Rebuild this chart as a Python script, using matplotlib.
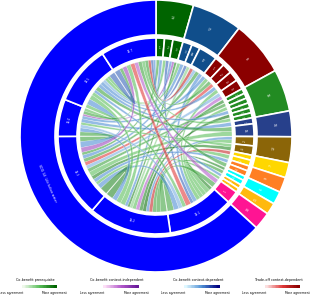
import numpy as np
import matplotlib.pyplot as plt
from matplotlib.patches import Wedge, PathPatch
from matplotlib.path import Path
from matplotlib.colors import LinearSegmentedColormap

# outer ring: goals, clockwise from the top
sdg_keys = ['13', '17', '8', '15', '16', '12', '7', '9', '6', '11', '10', '14']
sdg_labels = ['13', '17', '8', '15', '16', '12', '7', '9', '6', '11', '10', 'SDG 14: Life below water']
sdg_colors = ['#006400', '#104e8b', '#8b0000', '#228b22', '#27408b', '#8b6508',
              '#ffd700', '#ff7f24', '#00ffff', '#ffb90f', '#ff1493', '#0000ff']

# middle ring: targets (arc size in degrees)
target_ids = ['13.1', '13.2', '13.3', '17.3', '17.14', '17.17', '8.1', '8.2', '8.4', '8.9',
              '15.1', '15.2', '15.4', '15.5', '15.8', '15.9', '16.1', '16.16', '12.2', '12.4',
              '7.1', '7.2', '9.1', '9.4', '6.3', '6.6', '11.4', '11.5', '10.1',
              '14.1', '14.2', '14.3', '14.4', '14.5', '14.7']
target_sizes = [5, 5, 6, 5.5, 5, 11, 5.9, 5.9, 5.9, 5.9,
                3, 3, 3, 3, 3, 3, 3.5, 7.5, 5.5, 5.5,
                3, 3.5, 3, 3.5, 2.5, 3, 2.5, 2.5, 7.5,
                39, 49, 49, 22, 35, 33]

# interactions
link_from = ['13.1', '13.1', '13.2', '13.2', '13.3', '13.3', '13.3', '17.3', '17.3', '17.14',
             '17.14', '17.17', '17.17', '17.17', '17.17', '8.1', '8.1', '8.2', '8.2', '8.4',
             '8.4', '8.9', '8.9', '15.1', '15.2', '15.4', '15.5', '15.8', '15.9', '16.1',
             '16.16', '16.16', '12.2', '12.2', '12.4', '12.4', '7.1', '7.2', '9.1', '9.4',
             '6.3', '6.6', '11.4', '11.5', '10.1', '10.1',
             '14.1', '14.1', '14.1', '14.1', '14.2', '14.2', '14.2', '14.2', '14.3', '14.3',
             '14.3', '14.4', '14.4', '14.5', '14.1']
link_to = ['14.3', '14.2', '14.5', '14.1', '14.2', '14.4', '14.7', '14.3', '14.5', '14.7',
           '14.2', '14.1', '14.3', '14.5', '14.7', '14.2', '14.4', '14.3', '14.7', '14.5',
           '14.1', '14.2', '14.3', '14.2', '14.3', '14.1', '14.5', '14.2', '14.7', '14.4',
           '14.3', '14.5', '14.1', '14.2', '14.3', '14.4', '14.2', '14.1', '14.3', '14.7',
           '14.1', '14.2', '14.5', '14.3', '14.2', '14.7',
           '14.2', '14.3', '14.5', '14.7', '14.3', '14.4', '14.5', '14.7', '14.4', '14.5',
           '14.7', '14.5', '14.7', '14.7', '14.4']
link_value = [2.5, 2.5, 2.5, 2.5, 2, 2, 2, 3, 2.5, 2.5,
              2.5, 3, 3, 2.5, 2.5, 3, 3, 3, 3, 3,
              3, 3, 3, 3, 3, 3, 3, 3, 3, 3.5,
              4, 3.5, 3, 2.5, 3, 2.5, 3, 3.5, 3, 3.5,
              2.5, 3, 2.5, 2.5, 4, 3.5,
              5, 4, 3, 4, 6, 4, 4, 4, 4, 5,
              4, 3, 3, 5, 3]
link_kind = ['P', 'D', 'P', 'D', 'P', 'I', 'D', 'D', 'P', 'D',
             'P', 'D', 'P', 'D', 'T', 'P', 'D', 'T', 'P', 'D',
             'P', 'I', 'D', 'P', 'P', 'P', 'D', 'P', 'P', 'D',
             'P', 'P', 'P', 'D', 'P', 'P', 'T', 'P', 'D', 'P',
             'P', 'P', 'D', 'P', 'P', 'I',
             'P', 'D', 'P', 'T', 'P', 'D', 'P', 'P', 'P', 'D',
             'I', 'P', 'P', 'D', 'D']
link_level = [3, 2, 2, 3, 4, 3, 2, 2, 2, 3,
              1, 2, 3, 1, 3, 2, 2, 2, 3, 2,
              2, 2, 1, 4, 3, 2, 2, 5, 2, 2,
              2, 3, 2, 2, 4, 2, 3, 2, 2, 3,
              4, 3, 2, 2, 3, 2,
              3, 2, 2, 2, 4, 2, 2, 2, 3, 2,
              3, 2, 3, 3, 1]

legend_titles = ['Co-benefit prerequisite', 'Co-benefit context-independent',
                 'Co-benefit context-dependent', 'Trade-off context-dependent']
legend_kinds = ['P', 'I', 'D', 'T']
kind_colors = {'P': ['#eef8ea', '#5cbf5c', '#006400'],
               'I': ['#fde0f6', '#b45ccc', '#6a1b9a'],
               'D': ['#e0f8ff', '#4f8fd4', '#00007f'],
               'T': ['#fbe0e0', '#e03a3a', '#8b0000']}
cmaps = {k: LinearSegmentedColormap.from_list(k, v) for k, v in kind_colors.items()}

R_CHORD = 76
R_MID = (79, 98)
R_OUT = (101, 136)

fig = plt.figure(figsize=(3.12, 2.96), dpi=100)
ax = fig.add_axes([0, 0, 1, 1])

# layout: clockwise position from the top
scale = 360.0 / sum(target_sizes)
t_start, t_end = {}, {}
pos = 0.0
for tid, size in zip(target_ids, target_sizes):
    t_start[tid] = pos
    pos += size * scale
    t_end[tid] = pos


def ang(s):
    return 90.0 - s


def label_rot(theta):
    theta = theta % 360
    return theta - 90 if 0 < theta < 180 else theta + 90


# outer ring
for key, lab, col in zip(sdg_keys, sdg_labels, sdg_colors):
    ids = [t for t in target_ids if t.split('.')[0] == key]
    s0, s1 = t_start[ids[0]], t_end[ids[-1]]
    ax.add_patch(Wedge((0, 0), R_OUT[1], ang(s1), ang(s0), width=R_OUT[1] - R_OUT[0],
                       facecolor=col, edgecolor='white', lw=1.2))
    th = ang((s0 + s1) / 2)
    rr = (R_OUT[0] + R_OUT[1]) / 2
    ax.text(rr * np.cos(np.radians(th)), rr * np.sin(np.radians(th)), lab,
            rotation=label_rot(th), ha='center', va='center', color='white', fontsize=2.3)

# middle ring
for tid in target_ids:
    key = tid.split('.')[0]
    col = sdg_colors[sdg_keys.index(key)]
    s0, s1 = t_start[tid], t_end[tid]
    ax.add_patch(Wedge((0, 0), R_MID[1], ang(s1), ang(s0), width=R_MID[1] - R_MID[0],
                       facecolor=col, edgecolor='white', lw=1.2))
    th = ang((s0 + s1) / 2)
    rr = (R_MID[0] + R_MID[1]) / 2
    lab = tid if key == '14' else tid.split('.')[1]
    ax.text(rr * np.cos(np.radians(th)), rr * np.sin(np.radians(th)), lab,
            rotation=label_rot(th), ha='center', va='center', color='white', fontsize=2.0)

# chord ends inside each target
ends = {}
for tid in target_ids:
    mid = (t_start[tid] + t_end[tid]) / 2
    mine = []
    for i, (a, b) in enumerate(zip(link_from, link_to)):
        if a == tid:
            other = b
        elif b == tid:
            other = a
        else:
            continue
        omid = (t_start[other] + t_end[other]) / 2
        mine.append(((omid - mid) % 360, i, a == tid))
    mine.sort(reverse=True)
    total = sum(link_value[i] for _, i, _ in mine)
    width = t_end[tid] - t_start[tid] - 0.6
    p = t_start[tid] + 0.3
    for _, i, is_from in mine:
        w = link_value[i] / total * width
        ends[(i, is_from)] = (p, p + w)
        p += w


def arc_pts(s0, s1, n=12):
    th = np.radians(ang(np.linspace(s0, s1, n)))
    return list(zip(R_CHORD * np.cos(th), R_CHORD * np.sin(th)))


for i in range(len(link_from)):
    a0, a1 = ends[(i, True)]
    b0, b1 = ends[(i, False)]
    if (b0 - a0) % 360 > (a0 - b0) % 360:
        a0, a1, b0, b1 = b0, b1, a0, a1
    pa = arc_pts(a0, a1)
    pb = arc_pts(b0, b1)
    verts = pa + [(0, 0), pb[0]] + pb[1:] + [(0, 0), pa[0], pa[0]]
    codes = ([Path.MOVETO] + [Path.LINETO] * (len(pa) - 1) + [Path.CURVE3, Path.CURVE3]
             + [Path.LINETO] * (len(pb) - 1) + [Path.CURVE3, Path.CURVE3, Path.CLOSEPOLY])
    col = cmaps[link_kind[i]](0.2 + 0.15 * link_level[i])
    ax.add_patch(PathPatch(Path(verts, codes), facecolor=col, alpha=0.6,
                           edgecolor='white', lw=0.25))

# legends
bar_x = [(-134, -99), (-53, -17), (28, 64), (109, 144)]
grad = np.linspace(0, 1, 10).reshape(1, -1)
for (x0, x1), title, kind in zip(bar_x, legend_titles, legend_kinds):
    ax.imshow(grad, cmap=cmaps[kind], extent=(x0, x1, -152.5, -149.5), aspect='auto')
    ax.text((x0 + x1) / 2 - 4, -144, title, ha='center', va='center', fontsize=2.4)
    ax.text(x0 + 1, -157, 'Less agreement', ha='right', va='center', fontsize=2.2)
    ax.text(x1 - 3, -157, 'More agreement', ha='center', va='center', fontsize=2.2)

ax.set_xlim(-156, 156)
ax.set_ylim(-160, 136)
ax.axis('off')
fig.savefig('out.png', dpi=100)
